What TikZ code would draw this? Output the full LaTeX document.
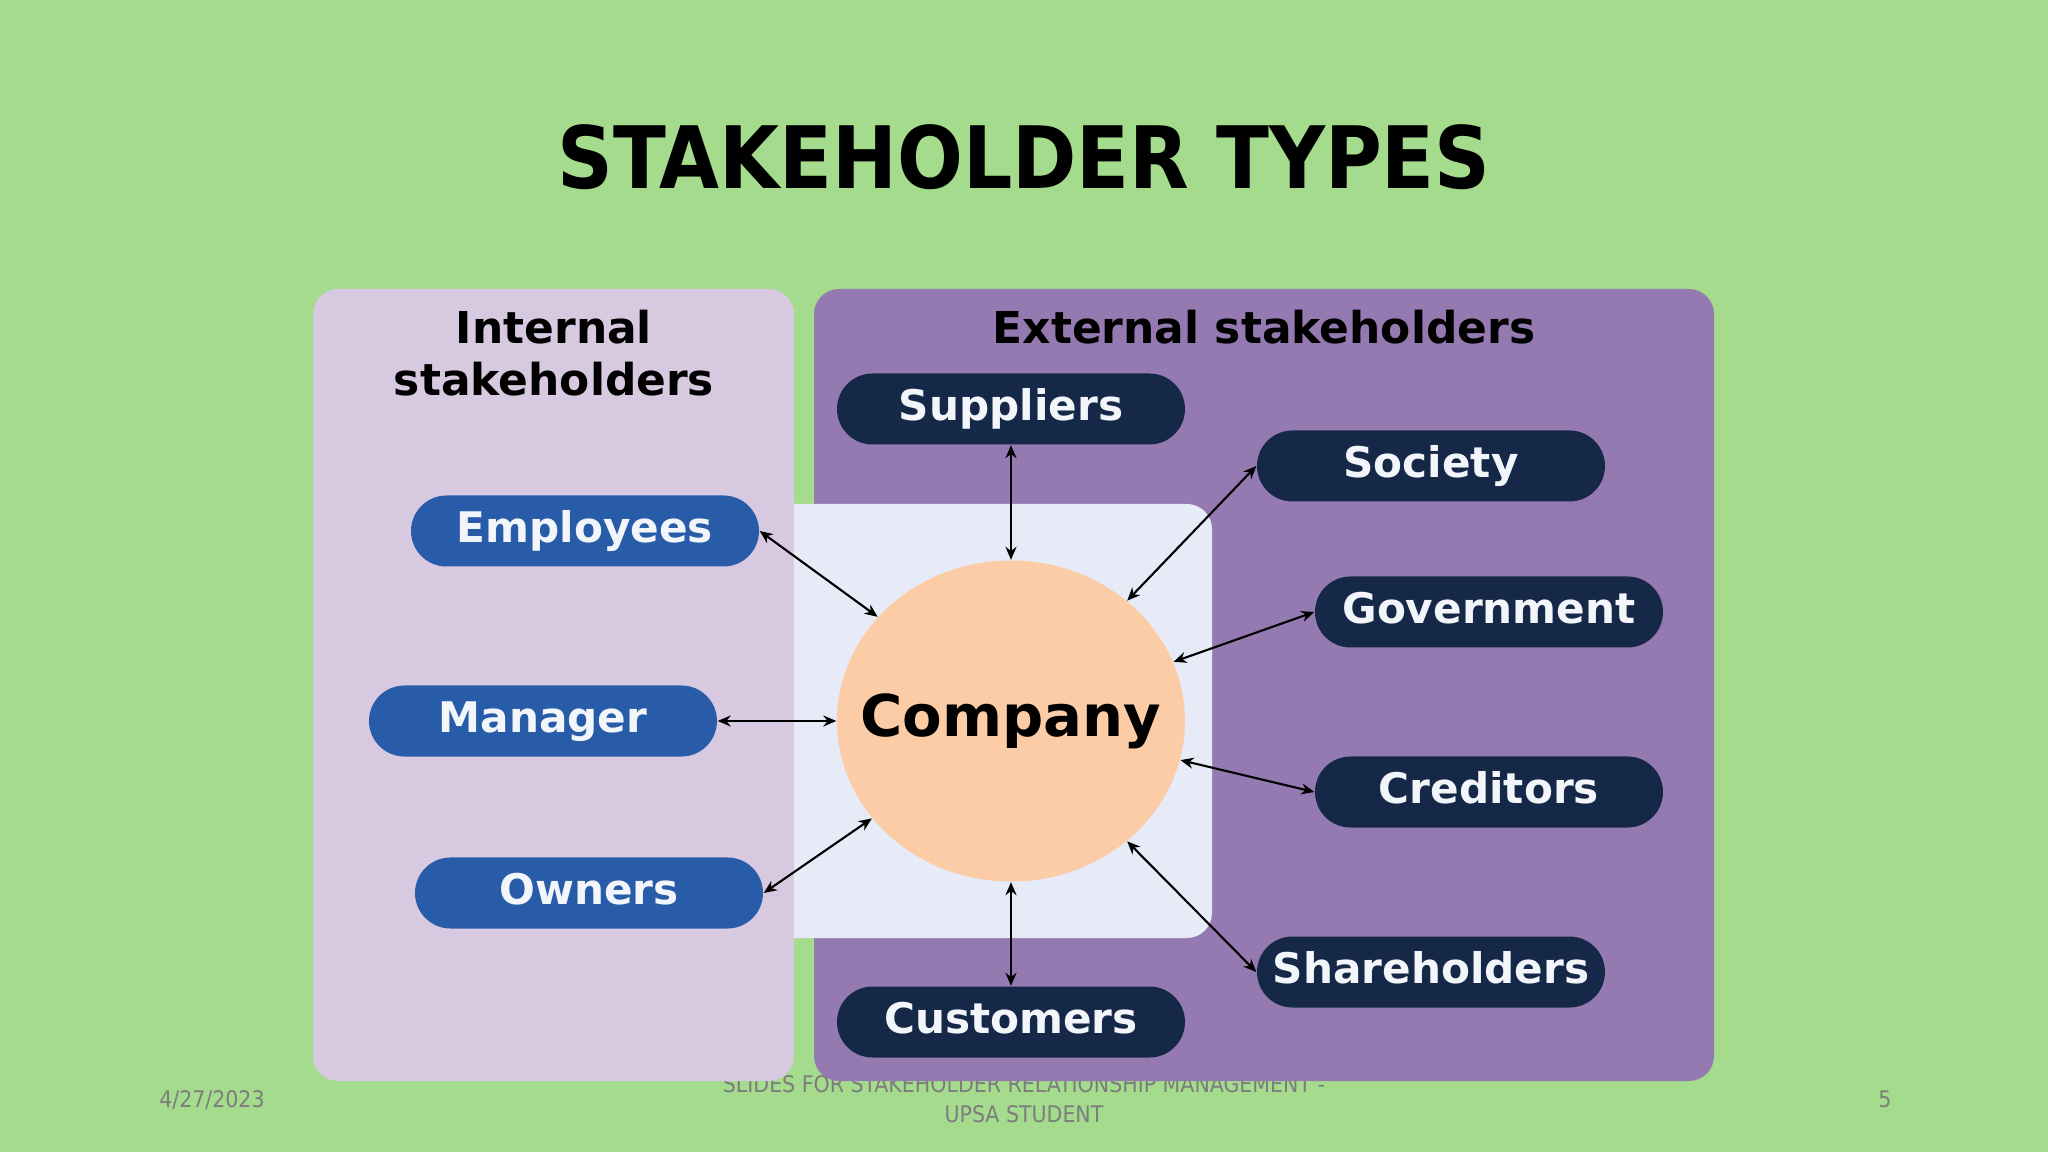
\documentclass[tikz,border=0pt]{standalone}
\usepackage{fontspec}
\setmainfont{DejaVu Sans}
\newfontfamily\condfont{DejaVu Sans Condensed}
\usetikzlibrary{arrows.meta,shapes.geometric}

\definecolor{slidegreen}{RGB}{165,219,140}
\definecolor{intpanel}{RGB}{214,201,224}
\definecolor{extpanel}{RGB}{148,122,176}
\definecolor{corebox}{RGB}{231,234,247}
\definecolor{coreball}{RGB}{251,204,166}
\definecolor{intblue}{RGB}{40,92,168}
\definecolor{extnavy}{RGB}{22,40,72}
\definecolor{pilltext}{RGB}{242,246,250}
\definecolor{footgray}{RGB}{125,125,125}

\tikzset{
  intpill/.style={fill=intblue, text=pilltext, rounded corners=0.355cm,
    minimum width=3.48cm, minimum height=0.71cm, inner sep=0pt,
    text height=0.74em, text depth=0.08em,
    font=\bfseries\fontsize{12}{14}\selectfont},
  extpill/.style={intpill, fill=extnavy},
  link/.style={{Stealth[length=1.3mm,width=1.1mm]}-{Stealth[length=1.3mm,width=1.1mm]},
    line width=0.6pt, black},
  foottext/.style={anchor=base, text=footgray, inner sep=0pt,
    font=\condfont\fontsize{6.5}{8}\selectfont},
}

\begin{document}
\begin{tikzpicture}
  \useasboundingbox (0,0) rectangle (20.48,-11.52);
  \fill[slidegreen] (0,0) rectangle (20.48,-11.52);

  % footer (partly under the panels)
  \node[foottext] (date) at (2.12,-11.07) {4/27/2023};
  \node[foottext] (footone) at (10.24,-10.92) {SLIDES FOR STAKEHOLDER RELATIONSHIP MANAGEMENT -};
  \node[foottext] (foottwo) at (10.24,-11.22) {UPSA STUDENT};
  \node[foottext] (page) at (18.85,-11.07) {5};

  % panels
  \fill[intpanel, rounded corners=0.25cm] (3.13,-2.89) rectangle (7.94,-10.81);
  \fill[extpanel, rounded corners=0.25cm] (8.14,-2.89) rectangle (17.14,-10.81);
  \begin{scope}
    \clip (7.94,-5.04) rectangle (12.5,-9.38);
    \fill[corebox, rounded corners=0.25cm] (7.5,-5.04) rectangle (12.12,-9.38);
  \end{scope}

  \node[anchor=base, font=\condfont\bfseries\fontsize{24.5}{28}\selectfont] (title) at (10.24,-1.89) {STAKEHOLDER TYPES};

  \node[align=center, font=\bfseries\fontsize{12.5}{14.8}\selectfont] (inthead) at (5.54,-3.53) {Internal\\stakeholders};
  \node[font=\bfseries\fontsize{12.5}{14.8}\selectfont] (exthead) at (12.64,-3.27) {External stakeholders};

  \node[ellipse, fill=coreball, inner sep=0pt, minimum width=3.48cm, minimum height=3.21cm] (company) at (10.11,-7.21) {};
  \node[font=\bfseries\fontsize{16.4}{20}\selectfont] (companytext) at (company.center) {Company};

  \node[intpill] (employees) at (5.85,-5.31) {Employees};
  \node[intpill] (manager) at (5.43,-7.21) {Manager};
  \node[intpill] (owners) at (5.89,-8.93) {Owners};

  \node[extpill] (suppliers) at (10.11,-4.09) {Suppliers};
  \node[extpill] (society) at (14.31,-4.66) {Society};
  \node[extpill] (government) at (14.89,-6.12) {Government};
  \node[extpill] (creditors) at (14.89,-7.92) {Creditors};
  \node[extpill] (shareholders) at (14.31,-9.72) {Shareholders};
  \node[extpill] (customers) at (10.11,-10.22) {Customers};

  \draw[link] (employees.east) -- (company.142);
  \draw[link] (manager.east) -- (company.west);
  \draw[link] (owners.east) -- (company.215);
  \draw[link] (suppliers.south) -- (company.north);
  \draw[link] (society.west) -- (company.46);
  \draw[link] (government.west) -- (company.20);
  \draw[link] (creditors.west) -- (company.347);
  \draw[link] (shareholders.west) -- (company.314);
  \draw[link] (customers.north) -- (company.south);
\end{tikzpicture}
\end{document}
